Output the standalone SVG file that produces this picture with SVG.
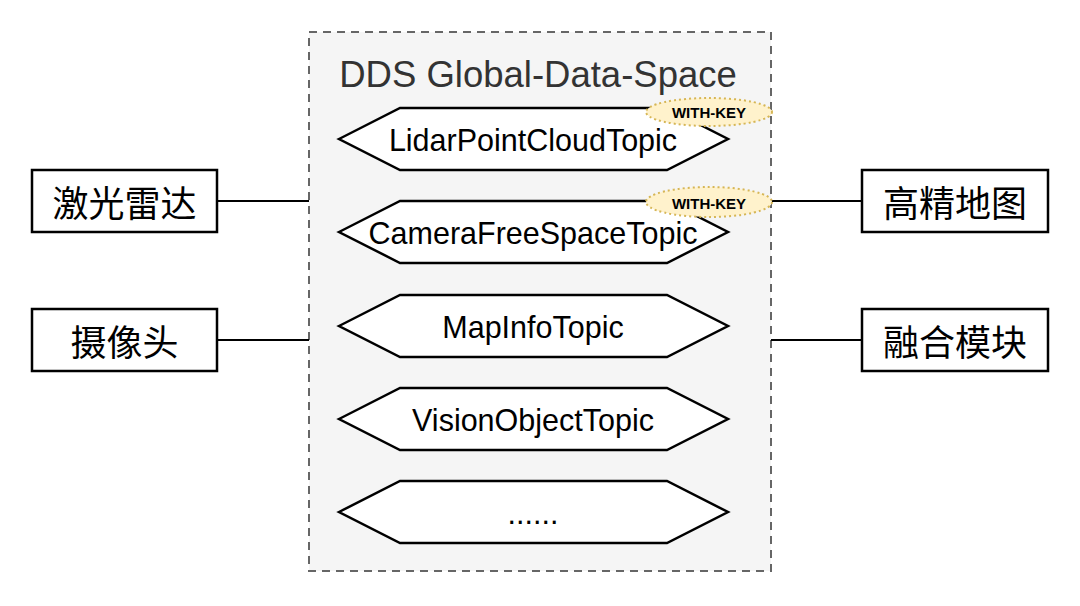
<svg xmlns="http://www.w3.org/2000/svg" width="1080" height="606" viewBox="0 0 1080 606">
<style>
.box{fill:#fff;stroke:#000;stroke-width:2.5}
.hex{fill:#fff;stroke:#000;stroke-width:2.5}
.cn{font-family:"Noto Sans CJK SC","Liberation Sans",sans-serif;font-size:36px;fill:#000;text-anchor:middle;dominant-baseline:central}
.en{font-family:"Liberation Sans",Arial,sans-serif;font-size:30.5px;fill:#000;text-anchor:middle;dominant-baseline:central}
.key{fill:#fff2cc;stroke:#d6b656;stroke-width:2;stroke-dasharray:2 3}
.kt{font-family:"Liberation Sans",Arial,sans-serif;font-size:15px;font-weight:bold;fill:#000;text-anchor:middle;dominant-baseline:central}
.conn{stroke:#000;stroke-width:2;fill:none}
</style>
<rect width="1080" height="606" fill="#fff"/>
<g id="space">
<rect x="309" y="32" width="462" height="539" fill="#f5f5f5" stroke="#666" stroke-width="2" stroke-dasharray="8 6"/>
<text x="538" y="74" font-family="Liberation Sans,Arial,sans-serif" font-size="36.5" fill="#333" text-anchor="middle" dominant-baseline="central">DDS Global-Data-Space</text>
</g>
<g id="connectors">
<line class="conn" x1="217" y1="201" x2="309" y2="201"/>
<line class="conn" x1="217" y1="340" x2="309" y2="340"/>
<line class="conn" x1="771" y1="201" x2="862" y2="201"/>
<line class="conn" x1="771" y1="340" x2="862" y2="340"/>
</g>
<g id="lidar"><rect class="box" x="32" y="170" width="185" height="62"/><text class="cn" x="124.5" y="201">激光雷达</text></g>
<g id="camera"><rect class="box" x="32" y="309" width="185" height="62"/><text class="cn" x="124.5" y="340">摄像头</text></g>
<g id="hdmap"><rect class="box" x="862" y="170" width="186" height="62"/><text class="cn" x="955" y="201">高精地图</text></g>
<g id="fusion"><rect class="box" x="862" y="309" width="186" height="62"/><text class="cn" x="955" y="340">融合模块</text></g>
<g id="topic1"><polygon class="hex" points="339,139 400,108 667,108 728,139 667,170 400,170"/><text class="en" x="533" y="140">LidarPointCloudTopic</text></g>
<g id="key1"><ellipse class="key" cx="709" cy="112" rx="63" ry="14"/><text class="kt" x="709" y="112">WITH-KEY</text></g>
<g id="topic2"><polygon class="hex" points="339,232 400,201 667,201 728,232 667,263 400,263"/><text class="en" x="533" y="233">CameraFreeSpaceTopic</text></g>
<g id="key2"><ellipse class="key" cx="709" cy="202" rx="63" ry="15"/><text class="kt" x="709" y="203">WITH-KEY</text></g>
<g id="topic3"><polygon class="hex" points="339,326 400,295 667,295 728,326 667,357 400,357"/><text class="en" x="533" y="327">MapInfoTopic</text></g>
<g id="topic4"><polygon class="hex" points="339,419 400,388 667,388 728,419 667,450 400,450"/><text class="en" x="533" y="420">VisionObjectTopic</text></g>
<g id="topic5"><polygon class="hex" points="339,512 400,481 667,481 728,512 667,543 400,543"/><text class="en" x="533" y="513">......</text></g>
</svg>
